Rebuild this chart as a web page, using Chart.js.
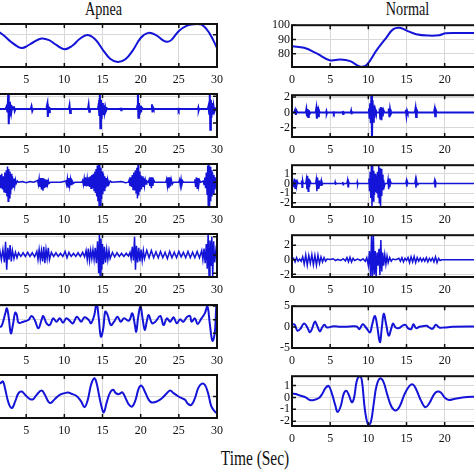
<!DOCTYPE html>
<html>
<head>
<meta charset="utf-8">
<script src="https://cdn.jsdelivr.net/npm/chart.js@4.4.1/dist/chart.umd.min.js"></script>
<style>
  body { margin: 0; background: #fff; width: 474px; height: 474px; overflow: hidden; position: relative; font-family: "Liberation Serif", serif; }
  canvas { position: absolute; }
  .ttl { position: absolute; text-align: center; color: #111; white-space: nowrap; }
</style>
</head>
<body>
<div class="ttl" style="left:-12px;width:231px;top:-2px;font-size:19px;transform:scaleX(0.75)">Apnea</div>
<div class="ttl" style="left:292px;width:231px;top:-2px;font-size:19px;transform:scaleX(0.75)">Normal</div>
<div class="ttl" style="left:185px;width:140px;top:445px;font-size:22px;transform:scaleX(0.7)">Time (Sec)</div>
<script>
// time axis (seconds)
const xTicks = [0, 5, 10, 15, 20, 25, 30];

// Apnea column, rows 1..6 : [time, value]
const apnea1 = [[0,98.9],[1,97.8],[2,95.9],[3,93.4],[4,91.4],[4.5,91.1],[5,91.6],[6,93.3],[7,94.6],[8,94.0],[9,92.1],[10,90.6],[11,91.8],[12,94.4],[13,95.9],[14,94.4],[15,90.6],[16,87.1],[17,85.9],[18,86.9],[19,90.3],[20,94.8],[21,96.7],[22,95.9],[23,93.8],[23.5,93.4],[24,94],[25,97.4],[26,99.3],[27,99.9],[28,99.8],[29,96.6],[30,91.1]];
const apnea2 = [[0,0.1],[2.3,0.1],[2.45,0.5],[2.55,-0.4],[2.65,2.4],[2.72,-2.2],[2.8,1.2],[2.88,-1.0],[2.96,0.7],[3.05,-0.4],[3.15,0.4],[3.3,0.1],[3.4,0.5],[3.5,-0.2],[3.6,0.1],[5.6,0.1],[5.7,0.5],[5.8,-0.2],[5.9,0.1],[7.6,0.1],[7.7,0.5],[7.78,0.9],[7.84,-1.1],[7.92,0.5],[8.0,-0.4],[8.1,0.2],[8.2,0.1],[10.6,0.1],[10.68,0.6],[10.76,-0.5],[10.85,0.1],[13.1,0.1],[13.18,0.7],[13.26,-0.3],[13.35,0.1],[14.4,0.1],[14.5,0.8],[14.58,-0.8],[14.65,3],[14.72,-2.8],[14.8,1.5],[14.88,-1.4],[14.96,1.0],[15.05,-0.8],[15.15,0.6],[15.25,-0.4],[15.35,0.4],[15.45,-0.2],[15.6,0.2],[15.75,0.1],[17.3,0.1],[17.38,0.3],[17.45,-0.1],[17.5,0.1],[19.5,0.1],[19.58,0.6],[19.64,3],[19.7,-1.2],[19.78,1.0],[19.86,-0.8],[19.94,0.6],[20.04,-0.4],[20.15,0.3],[20.3,0.1],[21.4,0.1],[21.48,0.8],[21.55,-0.4],[21.62,0.3],[21.7,0.1],[24.9,0.1],[24.95,0.3],[25.0,-0.1],[25.05,0.1],[27.5,0.1],[27.55,0.3],[27.6,-0.1],[27.65,0.1],[28.8,0.1],[28.9,0.6],[28.98,-0.6],[29.05,3],[29.12,-3.0],[29.2,1.5],[29.28,-1.2],[29.36,1.0],[29.45,-0.7],[29.55,0.5],[29.65,-0.3],[29.8,0.2],[30,0.1]];
const apnea3 = [[0,0],[0.8,0],[1.0,0.2],[1.1,-0.3],[1.2,0.4],[1.3,-0.4],[1.4,0.5],[1.5,-0.5],[1.6,0.6],[1.7,-0.5],[1.8,0.7],[1.9,-0.6],[2.0,0.5],[2.1,-0.8],[2.2,0.8],[2.3,-0.9],[2.4,1.0],[2.48,-1.2],[2.56,1.3],[2.64,-1.6],[2.72,1.1],[2.8,-1.3],[2.88,0.9],[2.96,-1.0],[3.04,0.7],[3.12,-0.6],[3.2,0.5],[3.3,-0.4],[3.4,0.3],[3.5,-0.3],[3.6,0.2],[3.7,-0.1],[3.85,0.1],[4.0,0],[4.5,0.05],[5,-0.05],[5.5,0.05],[6,0],[6.5,0.15],[6.6,-0.2],[6.7,0.3],[6.8,-0.4],[6.9,0.35],[7.0,-0.6],[7.1,0.35],[7.2,-0.7],[7.3,0.3],[7.4,-0.5],[7.5,0.25],[7.6,-0.35],[7.7,0.2],[7.8,-0.2],[7.9,0.15],[8.0,-0.1],[8.2,0],[9.5,0],[10.2,0.1],[10.3,-0.2],[10.4,0.3],[10.5,-0.4],[10.6,0.35],[10.7,-0.3],[10.8,0.25],[10.9,-0.2],[11.0,0.15],[11.2,-0.1],[11.4,0],[12.3,0],[12.4,0.15],[12.5,-0.2],[12.6,0.3],[12.7,-0.3],[12.8,0.4],[12.9,-0.35],[13.0,0.3],[13.1,-0.3],[13.2,0.4],[13.3,-0.4],[13.4,0.5],[13.5,-0.5],[13.6,0.6],[13.7,-0.5],[13.8,0.7],[13.9,-0.7],[14.0,0.9],[14.08,-0.9],[14.16,1.1],[14.24,-1.2],[14.32,1.4],[14.4,-1.6],[14.48,1.8],[14.56,-2.2],[14.64,1.6],[14.72,-2.2],[14.8,1.2],[14.88,-1.4],[14.96,0.9],[15.04,-1.0],[15.12,0.7],[15.2,-0.7],[15.3,0.5],[15.4,-0.5],[15.5,0.35],[15.6,-0.3],[15.7,0.2],[15.85,-0.15],[16.0,0.1],[16.2,0],[17.5,0.05],[18.0,-0.05],[18.4,0],[18.5,0.2],[18.6,-0.3],[18.7,0.4],[18.8,-0.4],[18.9,0.6],[19.0,-0.6],[19.1,0.8],[19.2,-0.7],[19.3,1.0],[19.4,-0.9],[19.5,1.2],[19.58,-1.35],[19.66,1.43],[19.74,-1.1],[19.82,0.9],[19.9,-0.8],[20.0,0.6],[20.1,-0.6],[20.2,0.5],[20.3,-0.4],[20.4,0.35],[20.5,-0.3],[20.6,0.2],[20.7,-0.15],[20.8,0.1],[21.0,0],[21.1,0.2],[21.2,-0.3],[21.3,0.4],[21.4,-0.5],[21.5,0.4],[21.6,-0.3],[21.7,0.2],[21.85,0],[23.3,0],[23.4,0.25],[23.5,-0.3],[23.6,0.4],[23.7,-0.5],[23.8,0.4],[23.9,-0.35],[24.0,0.25],[24.15,-0.15],[24.3,0],[25.0,0],[25.1,0.2],[25.2,-0.3],[25.3,0.25],[25.4,-0.2],[25.5,0.1],[25.6,0],[27.0,0],[27.1,0.25],[27.2,-0.4],[27.3,0.4],[27.4,-0.5],[27.5,0.35],[27.6,-0.3],[27.7,0.2],[27.85,0],[28.2,0.1],[28.3,-0.2],[28.4,0.4],[28.5,-0.5],[28.6,0.8],[28.7,-1.0],[28.78,1.4],[28.86,-2.2],[28.94,1.8],[29.02,-2.2],[29.1,1.3],[29.18,-1.6],[29.26,1.0],[29.34,-1.2],[29.42,0.8],[29.5,-0.9],[29.6,0.6],[29.7,-0.6],[29.8,0.4],[29.9,-0.3],[30,0.2]];
const apnea4 = [[0,0],[0.5,0.3],[0.8,-0.3],[1.1,0.4],[1.3,-0.5],[1.55,0.5],[1.75,-0.5],[1.95,0.6],[2.15,-0.8],[2.3,1.45],[2.45,-1.6],[2.6,0.8],[2.75,-0.5],[2.9,1.1],[3.05,-0.7],[3.2,0.5],[3.4,-0.4],[3.6,0.3],[3.8,-0.3],[4.0,0.25],[4.3,-0.15],[4.6,0.25],[4.9,-0.15],[5.2,0.3],[5.5,-0.15],[5.8,0.25],[6.1,-0.2],[6.4,0.4],[6.55,-0.5],[6.7,0.6],[6.85,-0.5],[7.0,0.5],[7.15,-0.7],[7.3,0.9],[7.45,-0.9],[7.6,0.6],[7.75,-0.4],[7.9,0.8],[8.05,-0.5],[8.3,0.3],[8.6,-0.15],[8.9,0.25],[9.2,-0.15],[9.5,0.2],[9.8,-0.15],[10.1,0.4],[10.35,-0.3],[10.6,0.3],[10.9,-0.15],[11.2,0.2],[11.5,-0.15],[11.8,0.25],[12.1,-0.15],[12.4,0.3],[12.65,-0.2],[12.85,0.5],[13.0,-0.5],[13.15,0.7],[13.3,-0.6],[13.45,0.5],[13.6,-0.4],[13.75,0.6],[13.9,-0.5],[14.05,0.8],[14.2,-0.9],[14.35,1.5],[14.5,-2.0],[14.6,2.4],[14.7,-2.5],[14.8,1.8],[14.9,-1.6],[15.0,1.2],[15.12,-1.0],[15.25,0.9],[15.4,-0.8],[15.55,0.6],[15.7,-0.5],[15.85,0.5],[16.0,-0.4],[16.3,0.3],[16.6,-0.2],[16.9,0.25],[17.2,-0.15],[17.5,0.2],[17.8,-0.15],[18.1,0.2],[18.4,-0.1],[18.6,0.3],[18.75,-0.4],[18.9,0.9],[19.05,-0.6],[19.2,2.0],[19.32,-1.6],[19.45,1.0],[19.6,-0.8],[19.75,0.8],[19.9,-0.7],[20.05,0.6],[20.2,-0.6],[20.35,0.5],[20.5,-0.4],[20.8,0.5],[21.1,-0.3],[21.4,0.5],[21.7,-0.3],[22.0,0.35],[22.3,-0.3],[22.6,0.4],[22.9,-0.3],[23.2,0.3],[23.5,-0.4],[23.8,0.4],[24.1,-0.3],[24.4,0.3],[24.7,-0.3],[25.0,0.4],[25.3,-0.2],[25.6,0.3],[25.9,-0.3],[26.2,0.4],[26.5,-0.3],[26.8,0.3],[27.1,-0.3],[27.4,0.4],[27.7,-0.3],[28.0,0.5],[28.15,-0.5],[28.3,0.7],[28.45,-0.9],[28.6,1.2],[28.72,-1.5],[28.84,2.4],[28.96,-2.5],[29.08,1.6],[29.2,-1.2],[29.32,2.0],[29.44,-2.5],[29.56,1.5],[29.7,-0.8],[29.85,0.5],[30,-0.3]];
const apnea5 = [[0,0.3],[1.0,-0.5],[1.62,-1.02],[1.84,-0.78],[2.27,0.93],[2.48,1.66],[2.70,0.44],[3.00,-2.0],[3.26,-0.78],[3.56,1.03],[3.78,0.69],[4.00,-0.43],[4.64,-0.29],[5.29,-0.04],[5.72,0.54],[6.16,-0.14],[6.59,-1.26],[7.02,-0.04],[7.24,0.54],[7.67,-0.53],[8.10,-0.78],[8.53,0.2],[8.96,-0.29],[9.40,0.2],[9.83,-0.43],[10.26,0.2],[10.69,-0.14],[11.12,-0.53],[11.64,0.44],[12.20,-0.29],[12.64,0.35],[13.20,-0.04],[13.50,-0.53],[13.93,0.69],[14.23,2.4],[14.49,0.44],[14.79,-2.48],[15.10,-1.26],[15.36,1.18],[15.66,0.69],[16.09,-0.78],[16.52,-0.29],[16.96,0.44],[17.39,-0.29],[17.82,0.2],[18.47,-0.14],[18.90,0.93],[19.24,-0.78],[19.42,-1.75],[19.68,0.44],[19.98,1.91],[20.28,-0.04],[20.54,-1.51],[20.84,-0.04],[21.06,0.69],[21.49,-0.53],[21.92,-0.29],[22.57,0.54],[23.0,-0.78],[23.43,0.2],[23.87,-0.29],[24.30,0.35],[24.73,-0.53],[25.16,0.05],[25.59,-0.29],[26.03,0.35],[26.46,0.54],[26.67,-0.29],[27.11,0.2],[27.45,-0.63],[27.97,0.2],[28.40,0.93],[28.75,1.91],[29.05,-0.53],[29.40,-3.07],[29.70,-2.0],[29.91,1.91],[30.0,2.3]];
const apnea6 = [[0,0.2],[1.0,0.9],[1.62,1.11],[1.97,1.25],[2.27,0.56],[2.70,-0.55],[3.13,-0.97],[3.56,-0.41],[4.00,0.28],[4.43,0.42],[4.86,0.14],[5.51,-0.22],[5.94,-0.22],[6.37,0.14],[7.02,0.5],[7.45,0.14],[7.88,-0.41],[8.19,-0.55],[8.75,-0.22],[9.40,0.14],[10.04,0.28],[10.48,0.34],[10.91,0.23],[11.56,0.06],[12.20,-0.41],[12.64,-0.89],[13.07,-0.28],[13.50,0.98],[13.93,1.53],[14.23,1.11],[14.58,0],[14.92,-0.97],[15.18,-1.33],[15.53,-0.55],[15.96,0.28],[16.39,0.56],[16.74,0.28],[17.17,0.2],[17.60,0.34],[18.03,-0.14],[18.47,-0.69],[18.90,-0.83],[19.33,-0.28],[19.76,0.7],[20.11,0.92],[20.54,0.42],[21.06,-0.28],[21.49,-0.5],[22.14,-0.41],[22.79,-0.14],[23.43,0.28],[23.87,0.5],[24.30,0.28],[24.95,0],[25.38,-0.14],[25.81,-0.28],[26.24,-0.64],[26.67,-0.69],[27.11,-0.14],[27.54,0.7],[27.97,1.06],[28.40,0.98],[28.83,0.28],[29.26,-0.83],[29.70,-1.25],[30.0,-1.39]];

// Normal column, rows 1..6 : [time, value]
const normal1 = [[0.06,85.2],[1.58,84.1],[3.3,80.0],[4.94,75.4],[6.33,75.9],[7.62,74.7],[8.92,70.9],[9.78,72.0],[11.07,82.3],[12.37,91.3],[13.23,97.1],[14.1,98.2],[14.96,96.4],[16.26,93.7],[17.98,92.7],[19.28,93.0],[20.14,94.3],[21.87,94.5],[23.6,94.5],[30,94.5]];
const normal2 = [[0,0],[0.3,0],[0.4,0.3],[0.5,-0.3],[0.6,0.2],[0.7,0],[1.8,0],[1.88,0.4],[1.96,-0.5],[2.04,0.45],[2.12,-0.6],[2.2,0.3],[2.3,-0.2],[2.4,0],[3.1,0],[3.18,0.5],[3.26,-0.8],[3.34,0.73],[3.42,-0.5],[3.52,0.3],[3.62,0],[4.45,0],[4.5,0.15],[4.55,-0.15],[4.6,0],[5.4,0],[5.45,0.15],[5.5,-0.15],[5.55,0],[6.6,0],[6.65,0.2],[6.7,-0.2],[6.75,0],[7.7,0],[7.75,0.2],[7.8,-0.25],[7.85,0],[10.0,0],[10.08,0.5],[10.16,-0.8],[10.24,1.2],[10.32,-1.4],[10.4,2.5],[10.48,-3.5],[10.56,1.6],[10.64,-1.2],[10.72,0.9],[10.8,-0.7],[10.9,0.4],[11.0,0],[11.4,0],[11.48,0.5],[11.56,-0.8],[11.64,0.7],[11.72,-1.0],[11.8,0.6],[11.88,-0.5],[11.98,0.3],[12.1,0],[12.6,0],[12.68,0.5],[12.76,-0.6],[12.84,0.4],[12.94,-0.2],[13.05,0],[14.85,0],[14.92,0.35],[15.0,-0.4],[15.08,0.2],[15.15,0],[16.1,0],[16.18,0.5],[16.26,-0.6],[16.34,0.3],[16.45,0],[18.6,0],[18.68,0.4],[18.76,-0.5],[18.84,0.3],[18.95,0],[30,0]];
const normal3 = [[0,0],[0.1,0.3],[0.2,-0.4],[0.3,0.5],[0.4,-0.5],[0.5,0.4],[0.6,-0.3],[0.7,0.2],[0.8,0],[1.2,0],[1.25,0.3],[1.32,-0.4],[1.4,0.3],[1.48,0],[1.8,0],[1.88,0.4],[1.96,-0.6],[2.04,0.77],[2.12,-0.8],[2.2,0.5],[2.28,-0.4],[2.38,0.2],[2.5,0],[3.1,0],[3.18,0.4],[3.26,-0.8],[3.34,0.6],[3.42,-0.5],[3.5,0.3],[3.6,-0.2],[3.7,0.15],[3.8,-0.2],[3.9,0.2],[4.0,-0.1],[4.1,0],[5.6,0],[5.65,0.15],[5.7,-0.15],[5.75,0],[6.6,0],[6.65,0.15],[6.7,-0.15],[6.75,0],[7.2,0],[7.27,0.3],[7.34,-0.35],[7.41,0.2],[7.5,0],[8.5,0],[8.55,0.15],[8.6,-0.15],[8.65,0],[10.0,0],[10.08,0.5],[10.16,-0.8],[10.24,1.2],[10.32,-1.5],[10.4,1.9],[10.48,-2.5],[10.56,1.9],[10.64,-1.8],[10.72,1.3],[10.8,-1.2],[10.88,1.0],[10.96,-0.9],[11.04,0.8],[11.12,-1.0],[11.2,1.2],[11.28,-1.4],[11.36,1.9],[11.44,-2.0],[11.52,1.6],[11.6,-2.5],[11.68,1.5],[11.76,-1.3],[11.84,0.9],[11.92,-0.7],[12.0,0.4],[12.1,-0.3],[12.2,0],[12.5,0],[12.58,0.4],[12.66,-0.6],[12.74,0.5],[12.82,-0.4],[12.9,0.2],[13.0,0],[14.9,0],[14.97,0.25],[15.04,-0.35],[15.11,0.2],[15.2,0],[16.1,0],[16.17,0.35],[16.24,-0.45],[16.31,0.3],[16.4,-0.15],[16.5,0],[18.6,0],[18.67,0.25],[18.74,-0.35],[18.81,0.2],[18.9,0],[30,0]];
const normal4 = [[0,0],[0.2,0.2],[0.4,-0.3],[0.6,0.3],[0.8,-0.2],[1.0,0.1],[1.2,-0.2],[1.4,0.4],[1.6,-0.6],[1.8,0.67],[2.0,-0.76],[2.2,0.6],[2.4,-0.5],[2.6,0.7],[2.8,-0.7],[3.0,0.6],[3.2,-0.76],[3.4,0.65],[3.6,-0.5],[3.8,0.4],[4.0,-0.3],[4.2,0.3],[4.4,-0.2],[4.6,0.1],[5.0,0.05],[5.4,0.15],[5.7,-0.1],[6.0,0.05],[6.4,-0.1],[6.7,0.15],[7.0,-0.15],[7.2,0.3],[7.4,-0.3],[7.6,0.35],[7.8,-0.3],[8.0,0.2],[8.2,-0.1],[8.6,0.1],[9.0,-0.1],[9.3,0.15],[9.6,-0.2],[9.8,0.3],[10.0,-0.8],[10.15,1.2],[10.3,-2.4],[10.42,3.4],[10.54,-2.4],[10.66,3.4],[10.78,-2.0],[10.9,1.2],[11.02,-2.4],[11.14,1.0],[11.26,-0.8],[11.4,1.5],[11.52,-2.1],[11.64,2.7],[11.76,-1.6],[11.88,1.0],[12.0,-0.8],[12.15,0.7],[12.3,-0.6],[12.45,0.5],[12.6,-0.4],[12.8,0.3],[13.0,-0.2],[13.2,0.1],[13.6,0],[14.0,0.2],[14.2,-0.2],[14.4,0.3],[14.6,-0.3],[14.8,0.2],[15.0,-0.1],[15.2,0.3],[15.4,-0.4],[15.6,0.4],[15.8,-0.3],[16.0,0.45],[16.2,-0.4],[16.4,0.3],[16.6,-0.2],[16.8,0.25],[17.0,-0.2],[17.2,0.2],[17.4,-0.2],[17.6,0.3],[17.8,-0.3],[18.0,0.2],[18.2,-0.15],[18.4,0.25],[18.6,-0.3],[18.8,0.4],[19.0,-0.4],[19.2,0.2],[19.4,-0.1],[19.6,0],[30,0]];
const normal5 = [[0.06,0.69],[0.37,0.54],[0.71,-0.87],[1.06,-0.48],[1.58,0.85],[2.01,-0.09],[2.35,-1.26],[2.66,-0.24],[3.0,1.32],[3.30,0.3],[3.65,-1.02],[3.95,-0.09],[4.25,0.54],[4.60,-0.09],[5.46,0.23],[6.33,0.07],[7.62,0.15],[8.48,0.15],[8.83,-0.48],[9.26,0.69],[9.69,-0.09],[10.21,-1.26],[10.51,0.69],[10.86,2.65],[11.16,0.3],[11.51,-3.6],[11.77,-0.09],[12.02,3.19],[12.37,0.3],[12.67,-2.04],[13.02,-0.24],[13.23,0.85],[13.58,-0.09],[14.01,-0.24],[14.44,0.3],[14.87,0.54],[15.18,-0.24],[15.61,-0.48],[15.91,0.69],[16.26,-0.24],[16.69,0.07],[17.12,0.23],[17.64,0.3],[17.98,-0.09],[18.41,-0.4],[18.85,0.54],[19.28,-0.09],[19.93,-0.09],[21.0,0.07],[23.16,0.15],[30,0.1]];
const normal6 = [[0.06,0.33],[0.50,0.28],[1.14,0.14],[1.79,0],[2.35,-0.22],[2.87,-0.22],[3.52,-0.05],[3.95,0.28],[4.38,0.77],[4.81,0.96],[5.25,0.28],[5.68,-0.68],[5.98,-1.23],[6.41,-0.68],[6.76,0.28],[7.10,0.55],[7.40,0.28],[7.84,-0.41],[8.14,0],[8.48,1.37],[8.83,1.78],[9.13,1.51],[9.56,-1.09],[9.99,-2.32],[10.34,-2.05],[10.73,-0.41],[11.07,0.96],[11.51,1.59],[11.94,1.37],[12.46,0.28],[13.02,-0.76],[13.58,-1.09],[14.10,-0.76],[14.75,0.28],[15.39,0.96],[15.82,1.1],[16.26,0.69],[16.90,-0.27],[17.47,-0.82],[17.98,-0.49],[18.63,0.28],[19.06,0.49],[19.49,0.41],[20.06,-0.05],[20.57,-0.22],[21.22,-0.13],[22.30,0],[23.6,0.06],[30,0.05]];

// y axis ranges and ticks per row
const apneaYRange = [[84, 100], [-4.1, 2.35], [-2.07, 1.52], [-2.4, 2.3], [-4.14, 2.15], [-1.8, 1.8]];
const apneaYTicks = [[96], [-2, 0, 2], [-1, 0, 1], [-2, 0, 2], [-2, 0, 2], [0]];
const normalYRange = [[70.6, 100], [-3.2, 2.25], [-2.43, 1.87], [-2.36, 3.37], [-5, 5], [-2.4, 1.78]];
const normalYTicks = [[80, 90, 100], [-2, 0, 2], [-2, -1, 0, 1], [-2, 0, 2], [-5, 0, 5], [-2, -1, 0, 1]];

const apnea = [apnea1, apnea2, apnea3, apnea4, apnea5, apnea6];
const normal = [normal1, normal2, normal3, normal4, normal5, normal6];
const smoothRows = [true, false, false, false, true, true];
const lineWidths = [2, 2, 1.5, 1.5, 2, 2];

// layout
const colLeft = [-12, 292];
const plotW = 231;
const rowTop = [24, 94, 164, 234, 305, 375];
const Y_W = 30, X_H = 20, PAD_T = 8, PAD_R = 10;

const tickFont = { family: '"Liberation Serif", serif', size: 12 };

// MATLAB-style box with inward ticks
const boxPlugin = {
    id: 'box',
    afterDraw(chart) {
        const { ctx, chartArea: a, scales: { x, y } } = chart;
        ctx.save();
        ctx.strokeStyle = '#111';
        ctx.lineWidth = 1.5;
        ctx.beginPath();
        x.ticks.forEach(t => {
            const px = x.getPixelForValue(t.value);
            ctx.moveTo(px, a.top); ctx.lineTo(px, a.top + 4);
            ctx.moveTo(px, a.bottom); ctx.lineTo(px, a.bottom - 4);
        });
        y.ticks.forEach(t => {
            const py = y.getPixelForValue(t.value);
            ctx.moveTo(a.left, py); ctx.lineTo(a.left + 4, py);
            ctx.moveTo(a.right, py); ctx.lineTo(a.right - 4, py);
        });
        ctx.stroke();
        ctx.lineWidth = 2;
        ctx.strokeRect(a.left, a.top, a.right - a.left, a.bottom - a.top);
        ctx.restore();
    }
};

function makePanel(col, row) {
    const series = col === 0 ? apnea[row] : normal[row];
    const range = col === 0 ? apneaYRange[row] : normalYRange[row];
    const yTicks = col === 0 ? apneaYTicks[row] : normalYTicks[row];
    const h = (col === 1 && row === 5) ? 51 : 43;

    const canvas = document.createElement('canvas');
    canvas.width = Y_W + plotW + PAD_R;
    canvas.height = PAD_T + h + X_H;
    canvas.style.left = (colLeft[col] - Y_W) + 'px';
    canvas.style.top = (rowTop[row] - PAD_T) + 'px';
    document.body.appendChild(canvas);

    new Chart(canvas.getContext('2d'), {
        type: 'line',
        data: {
            datasets: [{
                data: series.map(([x, y]) => ({ x, y })),
                borderColor: '#1414d8',
                borderWidth: lineWidths[row],
                pointRadius: 0,
                tension: smoothRows[row] ? 0.4 : 0,
                fill: false
            }]
        },
        options: {
            responsive: false,
            animation: false,
            events: [],
            layout: { padding: { top: PAD_T, right: PAD_R, left: 0, bottom: 0 } },
            plugins: { legend: { display: false }, tooltip: { enabled: false } },
            scales: {
                x: {
                    type: 'linear', min: 0, max: 30,
                    afterBuildTicks: s => { s.ticks = xTicks.map(v => ({ value: v })); },
                    afterFit: s => { s.height = X_H; },
                    grid: { color: '#d8d8d8', lineWidth: 1, drawTicks: false },
                    border: { display: false },
                    ticks: { font: tickFont, color: '#111', padding: 6, maxRotation: 0, autoSkip: false, callback: v => String(v) }
                },
                y: {
                    type: 'linear', min: range[0], max: range[1],
                    afterBuildTicks: s => { s.ticks = yTicks.map(v => ({ value: v })); },
                    afterFit: s => { s.width = Y_W; },
                    grid: { color: '#d8d8d8', lineWidth: 1, drawTicks: false },
                    border: { display: false },
                    ticks: { display: col === 1, autoSkip: false, font: tickFont, color: '#111', padding: 2, callback: v => String(v) }
                }
            }
        },
        plugins: [boxPlugin]
    });
}

for (let r = 0; r < 6; r++) {
    makePanel(0, r);
    makePanel(1, r);
}
</script>
</body>
</html>
